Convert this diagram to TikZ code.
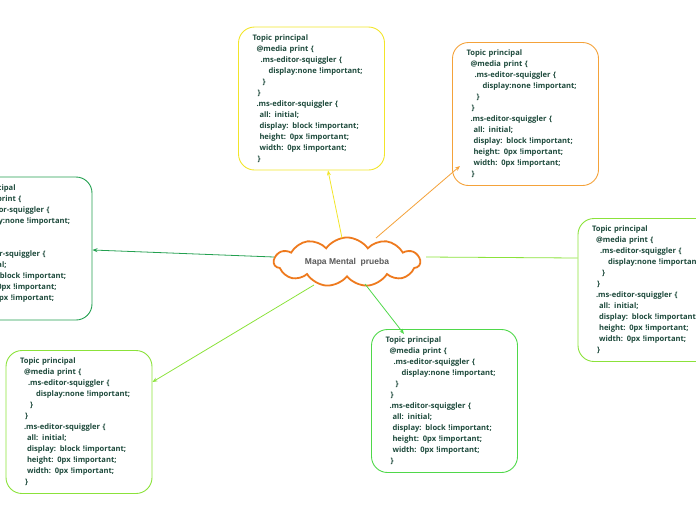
\documentclass[tikz,border=0pt]{standalone}
\usepackage{fontspec}
\setmainfont{Open Sans}
\newfontfamily\cloudfont{Liberation Sans}
\usetikzlibrary{shapes.symbols,arrows.meta}
\definecolor{txt}{HTML}{1E4A3C}
\definecolor{cyel}{HTML}{F2E52A}
\definecolor{cora}{HTML}{F4A23A}
\definecolor{cgrn}{HTML}{23A050}
\definecolor{clgr}{HTML}{8BE23A}
\definecolor{cmgr}{HTML}{4FD84A}
\definecolor{corg}{HTML}{EE7A1E}
\newcommand{\ind}[1]{\hspace*{#1pt}}
\newcommand{\boxcontent}{Topic principal\\
\ind{4}@media print \{\\
\ind{8}.ms-editor-squiggler \{\\
\ind{16}display:none !important;\\
\ind{10}\}\\
\ind{5}\}\\
\ind{4}.ms-editor-squiggler \{\\
\ind{7}all: initial;\\
\ind{7}display: block !important;\\
\ind{7}height: 0px !important;\\
\ind{7}width: 0px !important;\\
\ind{5}\}}
\tikzset{
 topic/.style={draw=#1, line width=0.9pt, rounded corners=16pt, minimum width=146pt, minimum height=143pt, text=txt, font=\fontsize{7.6}{11}\selectfont\bfseries, align=left, text width=118pt, inner sep=0pt},
 con/.style={draw=#1, line width=0.8pt, -{Stealth[length=5pt,width=4pt]}},
}
\begin{document}
\begin{tikzpicture}[x=1pt,y=-1pt]
\useasboundingbox (0,0) rectangle (696,520);
\node[cloud, cloud puffs=11, cloud puff arc=110, aspect=3.6, draw=corg, line width=1.8pt, minimum width=146pt, minimum height=42pt, inner sep=0pt, font=\cloudfont\bfseries\fontsize{8.5}{10}\selectfont, text=black!65, fill=white] (c) at (347,262) {Mapa Mental\ \ prueba};
\node[topic=cyel] (t1) at (311.5,98.5) {\boxcontent};
\node[topic=cora] (t2) at (525.5,114) {\boxcontent};
\node[topic=cgrn] (t3) at (19,248.5) {\boxcontent};
\node[topic=clgr] (t4) at (651,290) {\boxcontent};
\node[topic=clgr] (t5) at (79,422) {\boxcontent};
\node[topic=cmgr] (t6) at (444.5,401) {\boxcontent};
\draw[con=cyel] (342,238) -- (t1.south -| 328,0);
\draw[con=cora] (376,238) -- (460,166);
\draw[con=cgrn] (274,257) -- (t3.east |- 0,250);
\draw[draw=clgr, line width=0.8pt] (426,257) -- (t4.west |- 0,258);
\draw[con=clgr] (314,285) -- (t5.east |- 0,382);
\draw[con=cmgr] (365,284) -- (404,334);
\end{tikzpicture}
\end{document}
